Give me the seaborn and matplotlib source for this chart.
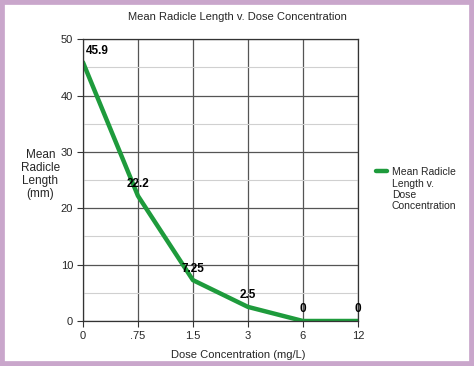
import matplotlib
matplotlib.use("Agg")
import matplotlib.pyplot as plt
import pandas as pd
import seaborn as sns
from matplotlib.patches import Rectangle
from matplotlib.ticker import MultipleLocator

# data
doses = ["0", ".75", "1.5", "3", "6", "12"]
radicle_mm = [45.9, 22.2, 7.25, 2.5, 0, 0]
point_labels = ["45.9", "22.2", "7.25", "2.5", "0", "0"]
series_name = "Mean Radicle\nLength v.\nDose\nConcentration"

GREEN = "#1E9B3C"
BORDER = "#C9A6CB"
GRID = "#555555"

sns.set_style("white")
plt.rcParams["font.family"] = ["Liberation Sans", "DejaVu Sans"]

df = pd.DataFrame({"dose": doses, "length": radicle_mm})

fig = plt.figure(figsize=(4.74, 3.66), dpi=100, facecolor="white")
ax = fig.add_axes([0.175, 0.123, 0.58, 0.77])

sns.lineplot(data=df, x="dose", y="length", ax=ax, color=GREEN,
             linewidth=3.2, label=series_name, sort=False)

ax.set_xlim(0, len(doses) - 1)
ax.set_ylim(0, 50)
ax.yaxis.set_major_locator(MultipleLocator(10))
ax.yaxis.set_minor_locator(MultipleLocator(5))
ax.grid(True, which="major", color=GRID, linewidth=0.9)
ax.grid(True, which="minor", axis="y", color="#D0D0D0", linewidth=0.8)
ax.set_axisbelow(True)
for s in ax.spines.values():
    s.set_color("#333333")
    s.set_linewidth(0.9)

ax.tick_params(axis="both", which="major", labelsize=8, color="#333333",
               length=4, direction="out", left=True, bottom=True, pad=3)
ax.tick_params(axis="y", which="minor", left=False)

for i, (v, lab) in enumerate(zip(radicle_mm, point_labels)):
    ha = "left" if i == 0 else "center"
    dx = 2 if i == 0 else 0
    ax.annotate(lab, (i, v), xytext=(dx, 4), textcoords="offset points",
                ha=ha, va="bottom", fontsize=8.5, fontweight="bold", color="black")

fig.text(0.5, 0.953, "Mean Radicle Length v. Dose Concentration",
         fontsize=8, ha="center", va="center")
ax.set_xlabel("Dose Concentration (mg/L)", fontsize=8)
ax.xaxis.set_label_coords(0.565, -0.102)
ax.set_ylabel("Mean\nRadicle\nLength\n(mm)", fontsize=8.5, rotation=0,
              linespacing=1.1, ha="center", va="center")
ax.yaxis.set_label_coords(-0.155, 0.52)

leg = ax.legend(loc="upper left", bbox_to_anchor=(1.05, 0.56), frameon=False,
                fontsize=7.5, handlelength=1.1, handletextpad=0.45,
                borderaxespad=0)
for t in leg.get_texts():
    t.set_linespacing(1.15)
# keep the legend line level with the first text line
for col in leg._legend_handle_box.get_children():
    for row in col.get_children():
        row.align = "top"

fig.patches.append(Rectangle((0, 0), 1, 1, transform=fig.transFigure,
                             fill=False, edgecolor=BORDER, linewidth=7))

fig.savefig("out.png", dpi=100, facecolor="white")
